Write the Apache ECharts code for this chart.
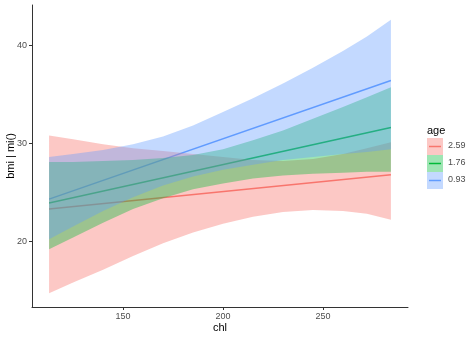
<!DOCTYPE html>
<html>
<head>
<meta charset="utf-8">
<script src="https://cdn.jsdelivr.net/npm/echarts@6/dist/echarts.min.js"></script>
<style>
  html, body { margin: 0; padding: 0; background: #fff; }
  #chart { width: 474px; height: 338px; }
</style>
</head>
<body>
<div id="chart"></div>
<script>
// ---- data ----
const groups = ['2.59', '1.76', '0.93'];
const lineX = [113, 284];
const fitRed = [23.3, 26.8];
const fitGreen = [23.9, 31.6];
const fitBlue = [24.3, 36.4];

const bandX = [113, 125, 140, 155, 170, 185, 200, 215, 230, 245, 260, 272, 284];
const redUpper = [30.8, 30.4, 29.9, 29.5, 29.2, 28.9, 28.6, 28.3, 28.2, 28.4, 28.9, 29.5, 30.1];
const redLower = [14.7, 15.8, 17.1, 18.5, 19.8, 20.9, 21.8, 22.5, 23.0, 23.2, 23.1, 22.8, 22.2];
const greenUpper = [28.1, 28.1, 28.2, 28.3, 28.5, 28.8, 29.4, 30.3, 31.3, 32.5, 33.7, 34.7, 35.7];
const greenLower = [19.2, 20.4, 21.9, 23.3, 24.4, 25.3, 25.9, 26.4, 26.7, 26.9, 27.0, 27.1, 27.1];
const blueUpper = [28.6, 28.9, 29.3, 29.9, 30.7, 31.8, 33.2, 34.6, 36.1, 37.7, 39.4, 40.9, 42.6];
const blueLower = [20.2, 21.5, 23.1, 24.5, 25.7, 26.6, 27.3, 27.8, 28.3, 28.6, 28.9, 29.1, 29.4];

const xTicks = [150, 200, 250];
const yTicks = [20, 30, 40];

// ---- styling ----
const lineColors = ['#F8766D', '#00BA38', '#619CFF'];
const bandColors = ['rgba(248,118,109,0.40)', 'rgba(0,186,56,0.38)', 'rgba(97,156,255,0.38)'];
const FONT = '"Liberation Sans", Arial, sans-serif';

function bandSeries(name, lower, upper, color) {
  return {
    type: 'custom',
    name: name,
    silent: true,
    clip: true,
    z: 3,
    data: bandX.map((x, i) => [x, lower[i], upper[i]]),
    encode: { x: 0, y: [1, 2] },
    renderItem: function (params, api) {
      if (params.dataIndex !== 0) return null;
      const pts = [];
      for (let i = 0; i < bandX.length; i++) pts.push(api.coord([bandX[i], upper[i]]));
      for (let i = bandX.length - 1; i >= 0; i--) pts.push(api.coord([bandX[i], lower[i]]));
      return { type: 'polygon', shape: { points: pts }, style: { fill: color } };
    }
  };
}

function lineSeries(name, vals, color) {
  return {
    type: 'line',
    name: name,
    z: 2,
    showSymbol: false,
    silent: true,
    data: lineX.map((x, i) => [x, vals[i]]),
    lineStyle: { color: color, width: 1.5 }
  };
}

const chart = echarts.init(document.getElementById('chart'));

const legendGraphics = [];
const legX = 427, legY0 = 138, keyW = 16, keyH = 17;
legendGraphics.push({
  type: 'text', left: legX, top: legY0 - 13,
  style: { text: 'age', font: '11px ' + FONT, fill: '#000' }
});
groups.forEach((g, i) => {
  const y = legY0 + i * keyH;
  legendGraphics.push({
    type: 'rect', shape: { x: legX, y: y, width: keyW, height: keyH },
    style: { fill: bandColors[i] }
  });
  legendGraphics.push({
    type: 'line', shape: { x1: legX + 2, y1: y + keyH / 2, x2: legX + keyW - 2, y2: y + keyH / 2 },
    style: { stroke: lineColors[i], lineWidth: 1.5 }
  });
  legendGraphics.push({
    type: 'text', left: legX + keyW + 5, top: y + keyH / 2 - 5,
    style: { text: g, font: '9px ' + FONT, fill: '#4D4D4D' }
  });
});

chart.setOption({
  animation: false,
  backgroundColor: '#fff',
  grid: { left: 32, right: 66, top: 5, bottom: 31, containLabel: false, outerBoundsMode: 'none' },
  xAxis: {
    type: 'value',
    min: 104.45, max: 292.55,
    name: 'chl', nameLocation: 'middle', nameGap: 15, nameMoveOverlap: false,
    nameTextStyle: { fontFamily: FONT, fontSize: 11, color: '#000' },
    axisLine: { show: true, lineStyle: { color: '#333', width: 1 } },
    axisTick: { show: true, length: 3, customValues: xTicks, lineStyle: { color: '#333' } },
    axisLabel: { customValues: xTicks, margin: 5, fontFamily: FONT, fontSize: 9, color: '#4D4D4D' },
    splitLine: { show: false }
  },
  yAxis: {
    type: 'value',
    min: 13.3, max: 44.1,
    name: 'bmi | mi()', nameLocation: 'middle', nameGap: 16, nameRotate: 90, nameMoveOverlap: false,
    nameTextStyle: { fontFamily: FONT, fontSize: 11, color: '#000' },
    axisLine: { show: true, lineStyle: { color: '#333', width: 1 } },
    axisTick: { show: true, length: 3, customValues: yTicks, lineStyle: { color: '#333' } },
    axisLabel: { customValues: yTicks, margin: 5, fontFamily: FONT, fontSize: 9, color: '#4D4D4D' },
    splitLine: { show: false }
  },
  series: [
    lineSeries(groups[0], fitRed, lineColors[0]),
    lineSeries(groups[1], fitGreen, lineColors[1]),
    lineSeries(groups[2], fitBlue, lineColors[2]),
    bandSeries(groups[0] + ' band', redLower, redUpper, bandColors[0]),
    bandSeries(groups[1] + ' band', greenLower, greenUpper, bandColors[1]),
    bandSeries(groups[2] + ' band', blueLower, blueUpper, bandColors[2])
  ],
  graphic: legendGraphics
});
</script>
</body>
</html>
